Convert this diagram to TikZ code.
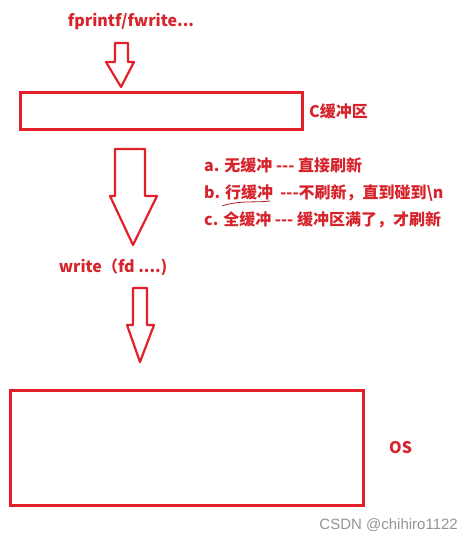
\documentclass[tikz,border=0pt]{standalone}
\usepackage{fontspec}
\setmainfont{Noto Sans CJK SC}[Ligatures=NoCommon]
\newfontfamily\markfont{Liberation Sans}
\definecolor{penred}{RGB}{226,32,42}
\definecolor{inkred}{RGB}{214,36,44}
\begin{document}
\begin{tikzpicture}[x=1pt, y=-1pt,
    every node/.style={inner sep=0pt, text=inkred, font=\fontsize{16}{19}\selectfont\bfseries},
    buffer/.style={draw=penred, line width=3pt},
    blockarrow/.style={draw=penred, line width=2.2pt, line join=round}]
        \useasboundingbox (0,0) rectangle (474,540);

        % labels
        \node (lib) at (131,22) {fprintf/fwrite...};
        \node[anchor=west] (cbuf) at (309,111) {C缓冲区};
        \node[anchor=west] (moda) at (204,165) {a. 无缓冲 -{}-{}- 直接刷新};
        \node[anchor=west] (modb) at (204,193) {b. 行缓冲 \ -{}-{}-不刷新，直到碰到\textbackslash n};
        \node[anchor=west] (modc) at (204,220) {c. 全缓冲 -{}-{}- 缓冲区满了，才刷新};
        \node (sys) at (113,267) {write（fd ....)};
        \node[anchor=west] (os) at (389,448) {OS};
        \node[anchor=east, text=black!42, font=\markfont\fontsize{15}{18}\selectfont] (mark) at (458,525) {CSDN @chihiro1122};

        % boxes
        \draw[buffer] (20,93) rectangle (302,130);
        \draw[buffer] (10,390) rectangle (363,505);

        % arrows
        \draw[blockarrow] (115,43) -- (128,43) -- (128,62) -- (134,62) -- (121,87) -- (106,62) -- (115,62) -- cycle;
        \draw[blockarrow] (115,149) -- (145,149) -- (145,196) -- (157,196) -- (133,245) -- (110,196) -- (115,196) -- cycle;
        \draw[blockarrow] (133,288) -- (147,288) -- (147,325) -- (154,325) -- (140,362) -- (127,325) -- (133,325) -- cycle;

        % hand underline
        \draw[inkred!80!black, line width=0.8pt] (222,206) .. controls (240,200) and (255,203) .. (270,201);
      \end{tikzpicture}
\end{document}
